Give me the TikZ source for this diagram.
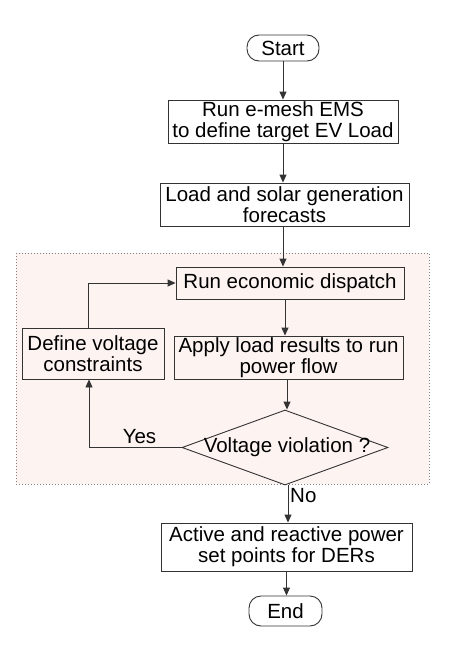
\documentclass[tikz,border=0pt]{standalone}
\usepackage{fontspec}
\setmainfont{Liberation Sans}
\usetikzlibrary{shapes.geometric,arrows.meta}
\definecolor{pinkbg}{HTML}{FDF3F1}
\definecolor{linec}{HTML}{333333}
\begin{document}
\begin{tikzpicture}[x=1pt,y=-1pt,
  txt/.style={font=\fontsize{20.5}{21}\selectfont},
  box/.style={txt,draw=linec,line width=0.9pt,inner sep=0pt,align=center},
  term/.style={box,rounded corners=12pt},
  arr/.style={draw=linec,line width=0.9pt,-{Triangle[length=8pt,width=7pt]}},
  lbl/.style={txt,inner sep=0pt}]
\useasboundingbox (0,0) rectangle (474,669);
\fill[white] (0,0) rectangle (474,669);
\draw[dotted,draw=gray,fill=pinkbg,line width=1pt] (16,253) rectangle (429,484);
\node[term,minimum width=72pt,minimum height=26pt] (start) at (283,48) {Start};
\node[box,minimum width=230pt,minimum height=43pt] (ems) at (283,121.5) {Run e-mesh EMS\\to define target EV Load};
\node[box,minimum width=249pt,minimum height=43pt] (fc) at (284.5,204.5) {Load and solar generation\\forecasts};
\node[box,minimum width=228pt,minimum height=32pt] (econ) at (290,283) {Run economic dispatch};
\node[box,minimum width=229pt,minimum height=43pt] (pf) at (288.5,357.5) {Apply load results to run\\power flow};
\node[box,minimum width=142pt,minimum height=51pt] (def) at (93,353.5) {Define voltage\\constraints};
\node[diamond,draw=linec,line width=0.9pt,inner sep=0pt,minimum width=206pt,minimum height=75pt,
  label={[lbl,xshift=2pt]center:Voltage violation ?}] (vv) at (285,447.5) {};
\node[box,minimum width=251pt,minimum height=48pt] (act) at (286.5,547) {Active and reactive power\\set points for DERs};
\node[term,minimum width=73pt,minimum height=30pt] (end) at (285.5,611) {End};
\draw[arr] (start.south) -- (start.south |- ems.north);
\draw[arr] (ems.south) -- (ems.south |- fc.north);
\draw[arr] ([xshift=-1.5pt]fc.south) -- ([xshift=-1.5pt]fc.south |- econ.north);
\draw[arr] ([xshift=-5pt]econ.south) -- ([xshift=-5pt]econ.south |- pf.north);
\draw[arr] ([xshift=-1.5pt]pf.south) -- ([xshift=-1.5pt]pf.south |- vv.north);
\draw[arr] ([xshift=3pt]vv.south) -- ([xshift=3pt]vv.south |- act.north);
\draw[arr] (act.south) -- (act.south |- end.north);
\draw[arr] (vv.west) -| ([xshift=-4pt]def.south);
\draw[arr] ([xshift=-5pt]def.north) |- (econ.west);
\node[lbl,anchor=base] (yes) at (139.5,443) {Yes};
\node[lbl,anchor=base west] (no) at (290,502) {No};
\end{tikzpicture}
\end{document}
